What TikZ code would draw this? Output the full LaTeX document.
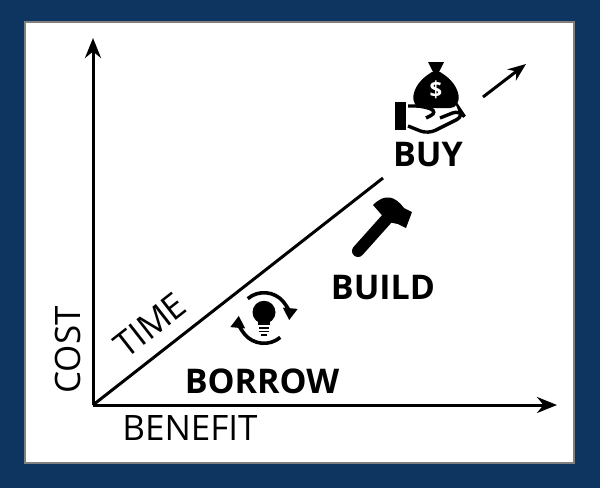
\documentclass[tikz,border=0pt]{standalone}
\usepackage{fontspec}
\setmainfont{Open Sans}
\usetikzlibrary{arrows.meta}
\definecolor{frameblue}{HTML}{0E3560}
\begin{document}
\begin{tikzpicture}[x=0.5pt,y=-0.5pt,
  ax/.style={line width=1.5pt,-{Stealth[length=10pt,width=8pt]}},
  lbl/.style={font=\fontsize{17.5}{19}\selectfont,inner sep=0pt},
  blbl/.style={font=\bfseries\fontsize{17}{19}\selectfont,inner sep=0pt}]
\useasboundingbox (0,0) rectangle (600,488);
\fill[frameblue] (0,0) rectangle (600,488);
\draw[gray,fill=white,line width=0.6pt] (25,22) rectangle (574,463);
\coordinate (o) at (93,405);
\coordinate (ytop) at (93,38);
\coordinate (xend) at (557,405);
\coordinate (tend) at (383,178);
\coordinate (a1) at (483,97);
\coordinate (a2) at (526,64);
\draw[ax] (o) -- (ytop);
\draw[ax] (o) -- (xend);
\draw[line width=1.5pt] (o) -- (tend);
\draw[line width=1.5pt,-{Stealth[length=9pt,width=7pt]}] (a1) -- (a2);
\node[lbl,rotate=90] (cost) at (68,350) {COST};
\node[lbl] (benefit) at (190,428) {BENEFIT};
\node[lbl,rotate=38] (time) at (150,325) {TIME};
\node[blbl] (borrow) at (262,381) {BORROW};
\node[blbl] (build) at (383,288) {BUILD};
\node[blbl] (buy) at (428,155) {BUY};
% lightbulb icon
\begin{scope}[shift={(264,318)},yscale=-1,scale=1.15]
  \fill (0,5) circle (10);
  \fill (-5,-6) rectangle (5,2);
  \fill (-4,-8) rectangle (4,-9.5);
  \fill (-4,-11) rectangle (4,-12.5);
  \fill (-3,-14) rectangle (3,-15.5);
  \draw[line width=1.8pt,-{Triangle[length=6pt,width=7pt]}] (130:22) arc (130:-5:22);
  \draw[line width=1.8pt,-{Triangle[length=6pt,width=7pt]}] (-50:22) arc (-50:-185:22);
\end{scope}
% hammer icon
\coordinate (h1) at (358,251);
\coordinate (h2) at (392,213);
\draw[line width=6pt,line cap=round] (h1) -- (h2);
\fill (373,205) .. controls (385,193) and (395,196) .. (404,208) -- (412,212) -- (406,228) -- (398,224) -- (388,222) -- cycle;
% money bag and hand
\begin{scope}[shift={(436,100)},yscale=-1]
  \fill (-8,38) -- (8,38) -- (3,28) -- (-3,28) -- cycle;
  \fill (-4,28) .. controls (-28,14) and (-26,-8) .. (-14,-8) -- (14,-8) .. controls (26,-8) and (28,14) .. (4,28) -- cycle;
  \node[white,font=\bfseries\fontsize{11}{11}\selectfont,inner sep=0pt] (dollar) at (0,10) {\$};
  \fill (-41,-2) rectangle (-30,-30);
  \draw[line width=1.7pt,rounded corners=4pt] (-28,-6) -- (-12,-6) -- (2,-12) -- (-10,-18)
     (-28,-26) -- (-8,-34) -- (28,-16) -- (24,-10) -- (4,-18);
\end{scope}
\end{tikzpicture}
\end{document}
